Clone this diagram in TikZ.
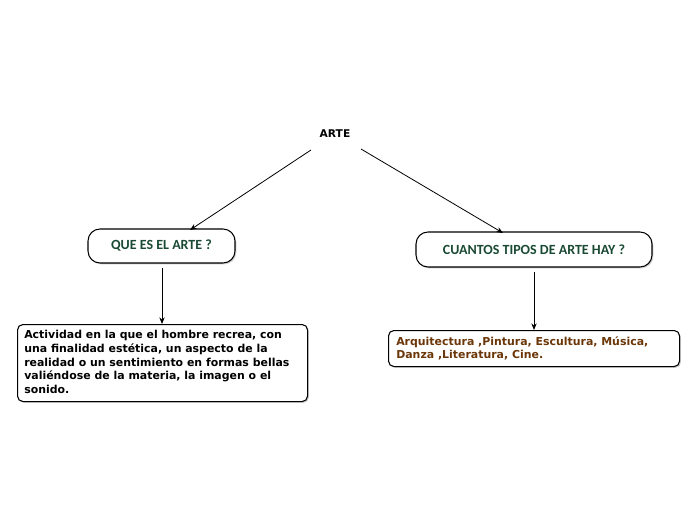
\documentclass[tikz,border=0pt]{standalone}
\usepackage{fontspec}
\setmainfont{DejaVu Sans}
\newfontfamily\titlefont{Carlito}
\usetikzlibrary{shadows,arrows.meta}
\definecolor{tgreen}{HTML}{1A4A33}
\definecolor{tbrown}{HTML}{6B3608}
\tikzset{
 pill/.style={draw,line width=0.8pt,rounded corners=9pt,fill=white,drop shadow={shadow xshift=1pt,shadow yshift=-1pt,opacity=0.4},font=\titlefont\bfseries\fontsize{10.5}{12}\selectfont,text=tgreen,align=center},
 textbox/.style={draw,line width=0.8pt,rounded corners=4pt,fill=white,drop shadow={shadow xshift=1pt,shadow yshift=-1pt,opacity=0.4},anchor=north west,inner sep=0pt},
 body/.style={anchor=north west,font=\bfseries\fontsize{8.2}{10.3}\selectfont,align=left,inner sep=0pt},
 arr/.style={-{Stealth[length=5pt,width=4pt]},line width=0.6pt}
}
\begin{document}
\begin{tikzpicture}[x=0.75pt,y=-0.75pt]
\useasboundingbox (0,0) rectangle (696,520);
\node[font=\bfseries\fontsize{8}{10}\selectfont] (arte) at (335,134) {ARTE};
\coordinate (a1) at (311,150);
\coordinate (a2) at (361,149);
\node[pill,minimum width=147*0.75pt,minimum height=34*0.75pt] (q1) at (161.5,246) {QUE ES EL ARTE ?};
\node[pill,minimum width=236*0.75pt,minimum height=35*0.75pt] (q2) at (534,249.5) {CUANTOS TIPOS DE ARTE HAY ?};
\node[textbox,minimum width=290*0.75pt,minimum height=77*0.75pt] (t1) at (17,324) {};
\node[body] at (24,330) {Actividad en la que el hombre recrea, con\\una finalidad estética, un aspecto de la\\realidad o un sentimiento en formas bellas\\valiéndose de la materia, la imagen o el\\sonido.};
\node[textbox,minimum width=291*0.75pt,minimum height=36*0.75pt] (t2) at (388,330) {};
\node[body,text=tbrown] at (396,336) {Arquitectura ,Pintura, Escultura, Música,\\Danza ,Literatura, Cine.};
\draw[arr] (a1) -- (190,230);
\draw[arr] (a2) -- (503,233);
\draw[arr] (162,268) -- (t1.north -| 162,0);
\draw[arr] (534,272) -- (t2.north -| 534,0);
\end{tikzpicture}
\end{document}
